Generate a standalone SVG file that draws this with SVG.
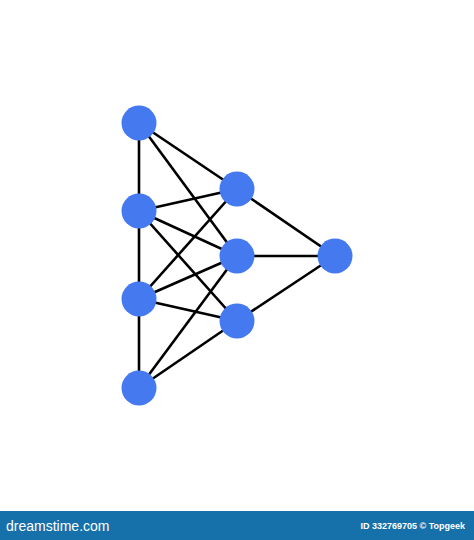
<svg xmlns="http://www.w3.org/2000/svg" width="474" height="540" viewBox="0 0 474 540">
<style>
.e{stroke:#000;stroke-width:2.6;fill:none}
.n{fill:#4479f0}
.t{font-family:"Liberation Sans",Arial,sans-serif;fill:#fff}
</style>
<rect width="474" height="540" fill="#fff"/>
<g id="connectors">
<line class="e" x1="139" y1="123" x2="139" y2="388"/>
<line class="e" x1="139" y1="123" x2="237" y2="189"/>
<line class="e" x1="139" y1="123" x2="237" y2="256"/>
<line class="e" x1="139" y1="211" x2="237" y2="189"/>
<line class="e" x1="139" y1="211" x2="237" y2="256"/>
<line class="e" x1="139" y1="211" x2="237" y2="321"/>
<line class="e" x1="139" y1="299" x2="237" y2="189"/>
<line class="e" x1="139" y1="299" x2="237" y2="256"/>
<line class="e" x1="139" y1="299" x2="237" y2="321"/>
<line class="e" x1="139" y1="388" x2="237" y2="256"/>
<line class="e" x1="139" y1="388" x2="237" y2="321"/>
<line class="e" x1="237" y1="189" x2="335" y2="256"/>
<line class="e" x1="237" y1="256" x2="335" y2="256"/>
<line class="e" x1="237" y1="321" x2="335" y2="256"/>
</g>
<g id="L1"><circle class="n" cx="139" cy="123" r="17.5"/></g>
<g id="L2"><circle class="n" cx="139" cy="211" r="17.5"/></g>
<g id="L3"><circle class="n" cx="139" cy="299" r="17.5"/></g>
<g id="L4"><circle class="n" cx="139" cy="388" r="17.5"/></g>
<g id="M1"><circle class="n" cx="237" cy="189" r="17.5"/></g>
<g id="M2"><circle class="n" cx="237" cy="256" r="17.5"/></g>
<g id="M3"><circle class="n" cx="237" cy="321" r="17.5"/></g>
<g id="R"><circle class="n" cx="335" cy="256" r="17.5"/></g>
<g id="footer">
<rect x="0" y="511" width="474" height="29" fill="#1670aa"/>
<text class="t" x="6" y="531" font-size="14">dreamstime.com</text>
<text class="t" x="465" y="529" font-size="9" font-weight="bold" text-anchor="end">ID 332769705 © Topgeek</text>
</g>
</svg>
